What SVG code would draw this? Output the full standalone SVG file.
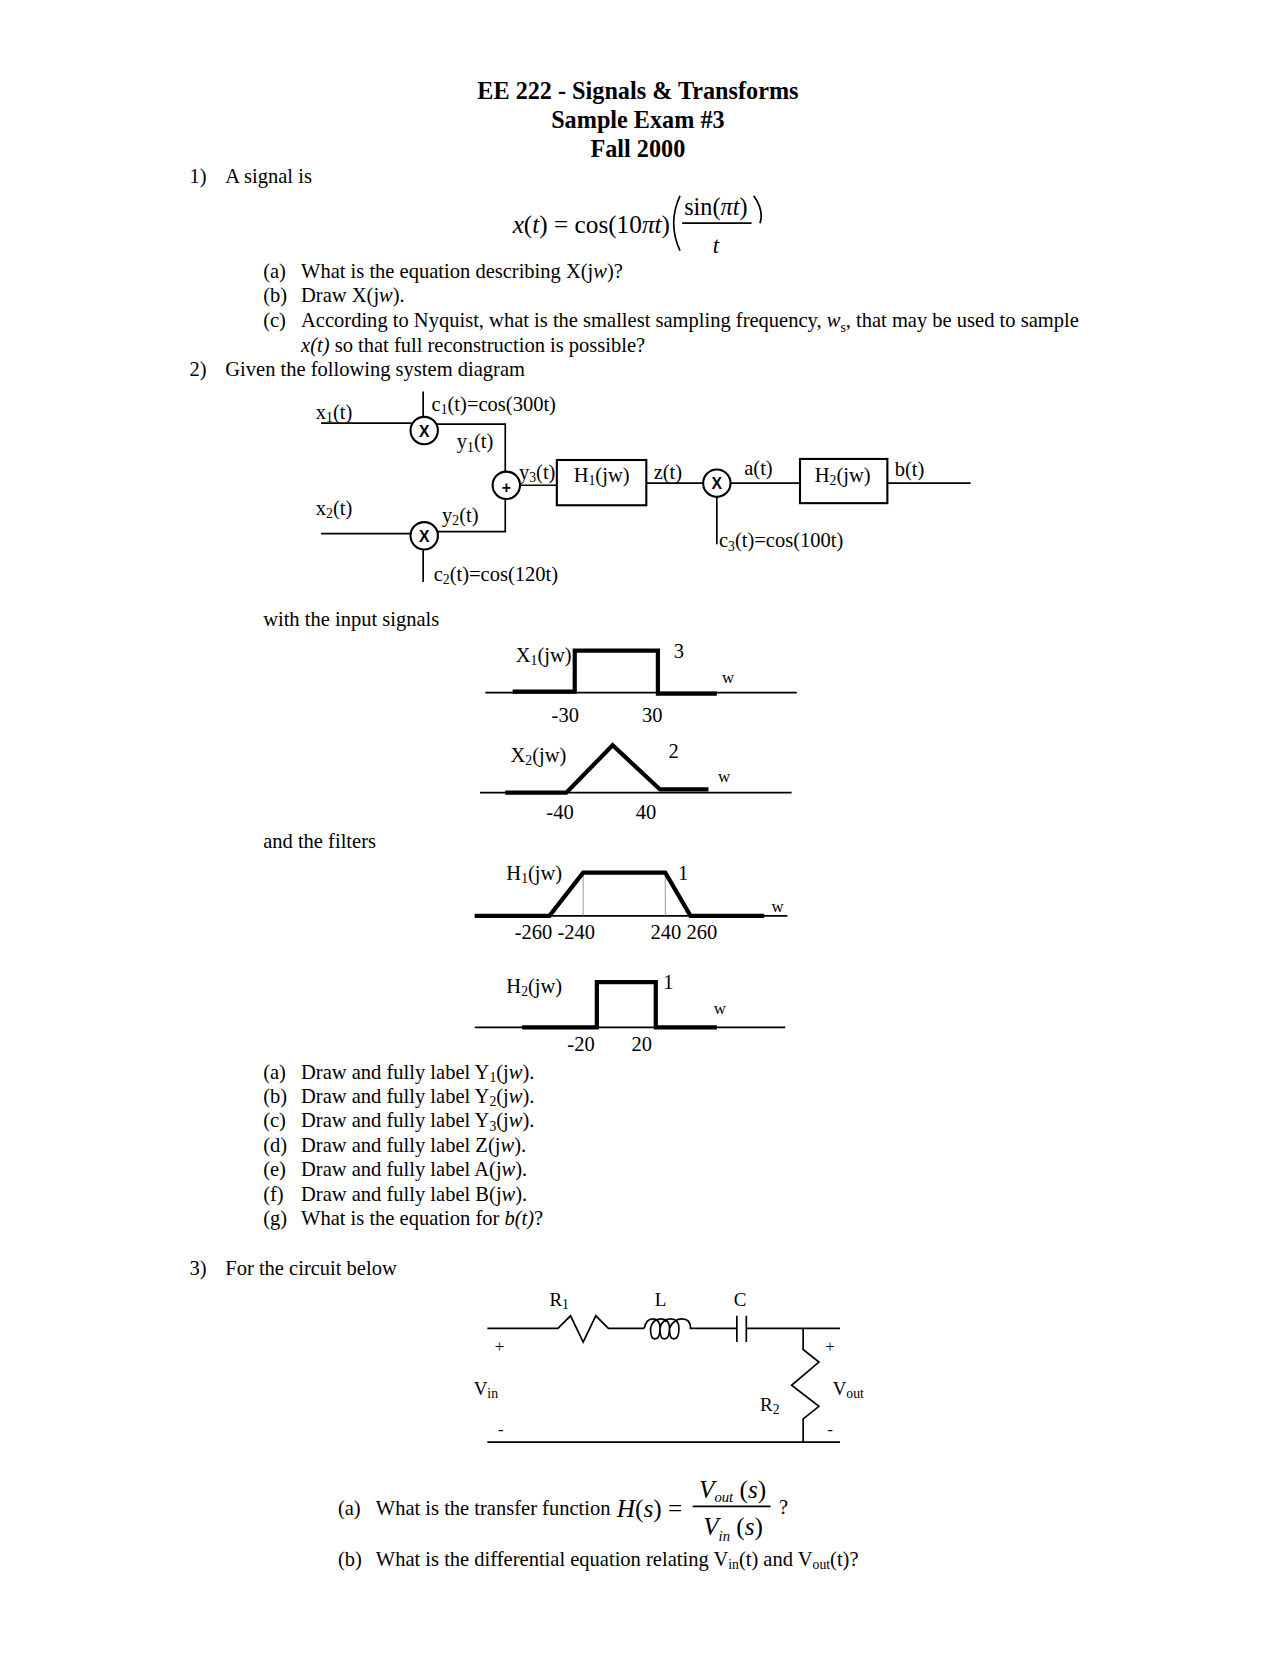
<svg xmlns="http://www.w3.org/2000/svg" width="1280" height="1656" viewBox="0 0 1280 1656">
<style>
text{font-family:"Liberation Serif","Times New Roman",serif;font-size:19.5px;fill:#000}
.t{font-size:23px;font-weight:bold;text-anchor:middle}
.s{font-size:13px}
.ln{stroke:#000;stroke-width:1.6;fill:none}
.th{stroke:#000;stroke-width:4;fill:none}
.thin{stroke:#888;stroke-width:0.8}
.c{fill:#fff;stroke:#000;stroke-width:2}
.op{font-family:"Liberation Sans",Arial,sans-serif;font-weight:bold;font-size:15px;text-anchor:middle}
.i{font-style:italic}
.w{font-size:16px}
.ck{font-size:18px}
.pm{font-size:16px}
</style>
<rect width="1280" height="1656" fill="#fff"/>
<g transform="scale(1.05263)">
<g id="title">
<text class="t" x="606" y="94">EE 222 - Signals &amp; Transforms</text>
<text class="t" x="606" y="122">Sample Exam #3</text>
<text class="t" x="606" y="149">Fall 2000</text>
</g>
<g id="q1">
<text x="180" y="174">1)</text><text x="214" y="174">A signal is</text>
<text x="487" y="221" style="font-size:24px"><tspan class="i">x</tspan>(<tspan class="i">t</tspan>) = cos(10<tspan class="i">πt</tspan>)</text>
<text x="650" y="204" style="font-size:23px">sin(<tspan class="i">πt</tspan>)</text>
<line class="ln" x1="648" y1="212" x2="714" y2="212" stroke-width="1"/>
<text x="677" y="240" style="font-size:22px" class="i">t</text>
<path class="ln" stroke-width="1.2" d="M646,186 Q634,212 646,238 M716,186 Q726,200 722,212"/>
<text x="250" y="264">(a)</text><text x="286" y="264">What is the equation describing X(j<tspan class="i">w</tspan>)?</text>
<text x="250" y="287">(b)</text><text x="286" y="287">Draw X(j<tspan class="i">w</tspan>).</text>
<text x="250" y="311">(c)</text><text x="286" y="311">According to Nyquist, what is the smallest sampling frequency, <tspan class="i">w</tspan><tspan class="s" dy="4">s</tspan><tspan dy="-4">, that may be used to sample</tspan></text>
<text x="286" y="334"><tspan class="i">x(t)</tspan> so that full reconstruction is possible?</text>
<text x="180" y="357">2)</text><text x="214" y="357">Given the following system diagram</text>
</g>
<g id="connectors">
<path class="ln" d="M305,402 H391 M402,372 V396 M415,403 H480 V448 M305,507 H391 M415,505 H480 V474 M402,522 V553 M494,461 H529 M614,459 H668 M681,472 V517 M694,459 H760 M843,459 H922"/>
</g>
<g id="mult1"><circle class="c" cx="403" cy="409" r="13"/><text class="op" x="403" y="415">X</text></g>
<g id="mult2"><circle class="c" cx="403" cy="509" r="13"/><text class="op" x="403" y="515">X</text></g>
<g id="sum"><circle class="c" cx="481" cy="461" r="13"/><text class="op" x="481" y="468">+</text></g>
<g id="mult3"><circle class="c" cx="681" cy="459" r="13"/><text class="op" x="681" y="465">X</text></g>
<g id="H1box"><rect class="c" stroke-width="1.6" x="529" y="437" width="85" height="43"/><text x="545" y="458">H<tspan class="s" dy="3">1</tspan><tspan dy="-3">(jw)</tspan></text></g>
<g id="H2box"><rect class="c" stroke-width="1.6" x="760" y="436" width="83" height="42"/><text x="774" y="458">H<tspan class="s" dy="3">2</tspan><tspan dy="-3">(jw)</tspan></text></g>
<g id="labels">
<text x="300" y="398">x<tspan class="s" dy="3">1</tspan><tspan dy="-3">(t)</tspan></text>
<text x="410" y="390">c<tspan class="s" dy="3">1</tspan><tspan dy="-3">(t)=cos(300t)</tspan></text>
<text x="434" y="426">y<tspan class="s" dy="3">1</tspan><tspan dy="-3">(t)</tspan></text>
<text x="493" y="455">y<tspan class="s" dy="3">3</tspan><tspan dy="-3">(t)</tspan></text>
<text x="300" y="489">x<tspan class="s" dy="3">2</tspan><tspan dy="-3">(t)</tspan></text>
<text x="420" y="496">y<tspan class="s" dy="3">2</tspan><tspan dy="-3">(t)</tspan></text>
<text x="412" y="552">c<tspan class="s" dy="3">2</tspan><tspan dy="-3">(t)=cos(120t)</tspan></text>
<text x="621" y="455">z(t)</text>
<text x="707" y="451">a(t)</text>
<text x="850" y="452">b(t)</text>
<text x="683" y="520">c<tspan class="s" dy="3">3</tspan><tspan dy="-3">(t)=cos(100t)</tspan></text>
</g>
<g id="plots">
<text x="250" y="595">with the input signals</text>
<line class="ln" stroke-width="1.3" x1="461" y1="658" x2="757" y2="658"/>
<path class="th" d="M487,657 H546 V618 H625 V659 H681"/>
<text x="490" y="629">X<tspan class="s" dy="3">1</tspan><tspan dy="-3">(jw)</tspan></text>
<text x="640" y="625">3</text><text x="686" y="649" class="w">w</text>
<text x="524" y="686">-30</text><text x="610" y="686">30</text>
<line class="ln" stroke-width="1.3" x1="456" y1="753" x2="752" y2="753"/>
<path class="th" d="M480,753 H538 L582,708 L627,750 H673"/>
<text x="485" y="724">X<tspan class="s" dy="3">2</tspan><tspan dy="-3">(jw)</tspan></text>
<text x="635" y="720">2</text><text x="682" y="743" class="w">w</text>
<text x="519" y="778">-40</text><text x="604" y="778">40</text>
<text x="250" y="806">and the filters</text>
<line class="ln" stroke-width="1.3" x1="451" y1="870" x2="748" y2="870"/>
<line class="thin" x1="554" y1="829" x2="554" y2="870"/><line class="thin" x1="632" y1="829" x2="632" y2="870"/>
<path class="th" d="M451,870 H522 L554,829 H632 L656,870 H726"/>
<text x="481" y="836">H<tspan class="s" dy="3">1</tspan><tspan dy="-3">(jw)</tspan></text>
<text x="644" y="836">1</text><text x="733" y="866" class="w">w</text>
<text x="489" y="892">-260 -240</text><text x="618" y="892">240 260</text>
<line class="ln" stroke-width="1.3" x1="451" y1="976" x2="746" y2="976"/>
<path class="th" d="M496,976 H567 V933 H623 V976 H681"/>
<text x="481" y="943">H<tspan class="s" dy="3">2</tspan><tspan dy="-3">(jw)</tspan></text>
<text x="630" y="940">1</text><text x="678" y="963" class="w">w</text>
<text x="539" y="998">-20</text><text x="600" y="998">20</text>
</g>
<g id="q2list">
<text x="250" y="1025">(a)</text><text x="286" y="1025">Draw and fully label Y<tspan class="s" dy="3">1</tspan><tspan dy="-3">(j</tspan><tspan class="i">w</tspan>).</text>
<text x="250" y="1048">(b)</text><text x="286" y="1048">Draw and fully label Y<tspan class="s" dy="3">2</tspan><tspan dy="-3">(j</tspan><tspan class="i">w</tspan>).</text>
<text x="250" y="1071">(c)</text><text x="286" y="1071">Draw and fully label Y<tspan class="s" dy="3">3</tspan><tspan dy="-3">(j</tspan><tspan class="i">w</tspan>).</text>
<text x="250" y="1094">(d)</text><text x="286" y="1094">Draw and fully label Z(j<tspan class="i">w</tspan>).</text>
<text x="250" y="1117">(e)</text><text x="286" y="1117">Draw and fully label A(j<tspan class="i">w</tspan>).</text>
<text x="250" y="1141">(f)</text><text x="286" y="1141">Draw and fully label B(j<tspan class="i">w</tspan>).</text>
<text x="250" y="1164">(g)</text><text x="286" y="1164">What is the equation for <tspan class="i">b(t)</tspan>?</text>
<text x="180" y="1211">3)</text><text x="214" y="1211">For the circuit below</text>
</g>
<g id="circuit">
<path class="ln" stroke-width="2" d="M463,1262 H530 L542,1250 L554,1275 L566,1250 L578,1262 H612 M660,1262 H700 M709,1262 H798 M763,1262 V1282 L778,1294 L752,1316 L778,1336 L763,1348 V1370 M463,1370 H798"/>
<path class="ln" stroke-width="2" d="M612,1262 Q614,1253 620,1253 Q627,1253 627,1262 Q627,1272 622,1272 Q618,1272 618,1262 Q620,1253 628,1253 Q636,1253 636,1262 Q636,1272 631,1272 Q627,1272 627,1262 Q629,1253 637,1253 Q645,1253 645,1262 Q645,1272 640,1272 Q636,1272 636,1262 Q640,1253 648,1253 Q656,1253 656,1262 L660,1262"/>
<path class="ln" stroke-width="2" d="M700,1250 V1275 M709,1250 V1275"/>
<text x="522" y="1241" class="ck">R<tspan class="s" dy="3">1</tspan></text>
<text x="622" y="1241" class="ck">L</text>
<text x="697" y="1241" class="ck">C</text>
<text x="470" y="1284" class="pm">+</text>
<text x="450" y="1325" class="ck">V<tspan class="s" dy="3">in</tspan></text>
<text x="473" y="1363" class="pm">-</text>
<text x="784" y="1284" class="pm">+</text>
<text x="791" y="1325" class="ck">V<tspan class="s" dy="3">out</tspan></text>
<text x="722" y="1340" class="ck">R<tspan class="s" dy="3">2</tspan></text>
<text x="786" y="1363" class="pm">-</text>
</g>
<g id="q3list">
<text x="321" y="1439">(a)</text><text x="357" y="1439">What is the transfer function</text>
<text x="586" y="1441" style="font-size:24px"><tspan class="i">H</tspan>(<tspan class="i">s</tspan>) =</text>
<text x="664" y="1423" style="font-size:24px" class="i">V<tspan style="font-size:14px" dy="4">out</tspan><tspan dy="-4" font-style="normal"> (</tspan>s<tspan font-style="normal">)</tspan></text>
<line class="ln" stroke-width="1.2" x1="658" y1="1431" x2="732" y2="1431"/>
<text x="668" y="1458" style="font-size:24px" class="i">V<tspan style="font-size:14px" dy="6">in</tspan><tspan dy="-6" font-style="normal"> (</tspan>s<tspan font-style="normal">)</tspan></text>
<text x="740" y="1438">?</text>
<text x="321" y="1488">(b)</text><text x="357" y="1488">What is the differential equation relating V<tspan class="s" dy="3">in</tspan><tspan dy="-3">(t) and V</tspan><tspan class="s" dy="3">out</tspan><tspan dy="-3">(t)?</tspan></text>
</g>
</g>
</svg>
